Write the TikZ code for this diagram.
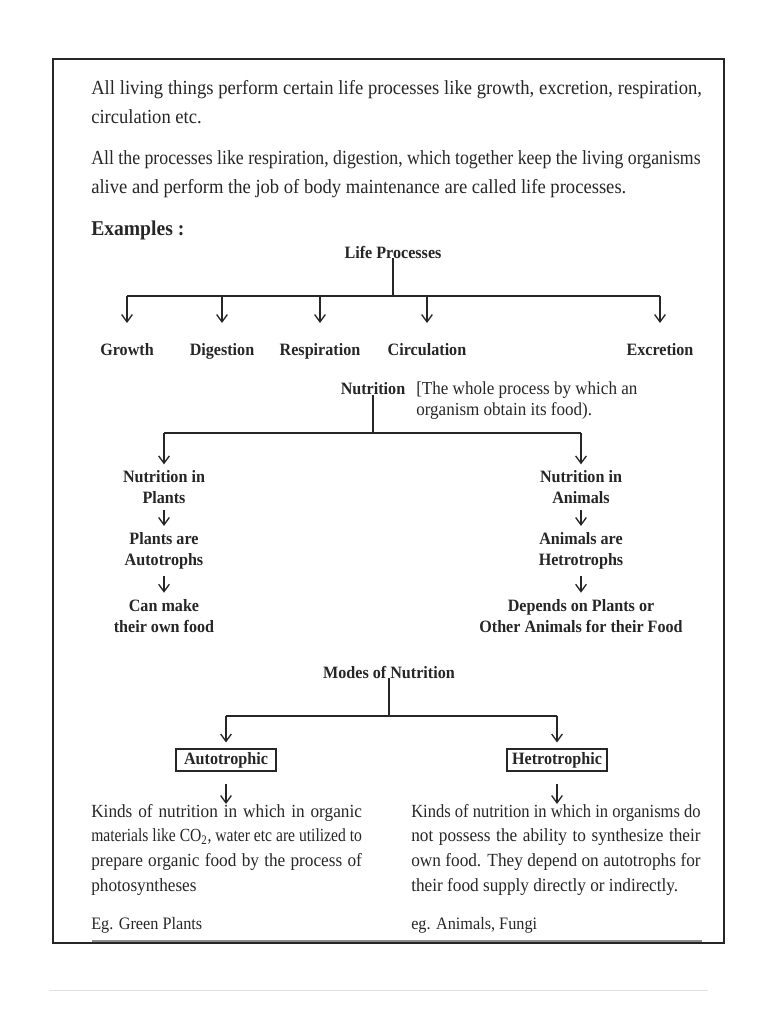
\documentclass[tikz,border=0pt]{standalone}
\usepackage{graphicx}
\usepackage{fontspec}
\setmainfont{Liberation Serif}[FakeStretch=0.93]
\usetikzlibrary{arrows.meta}

% one justified line of a paragraph, squeezed if it is too long
\newcommand\jline[2]{\sbox0{#2}\ifdim\wd0>#1\relax\resizebox{#1}{\height}{\usebox0}\else\makebox[#1][s]{#2}\fi}

\tikzset{
  lbl/.style={font=\bfseries\fontsize{13}{15.4}\selectfont, align=center, inner sep=0pt, text=black!85},
  toptext/.style={font=\fontsize{15}{21.75}\selectfont, inner sep=0pt, align=left, anchor=north west, text=black!85},
  body/.style={font=\fontsize{13.9}{18.5}\selectfont, inner sep=0pt, align=left, anchor=north west, text=black!85},
  egtext/.style={font=\fontsize{13.1}{18.5}\selectfont, inner sep=0pt, anchor=north west, text=black!85},
  arr/.style={-{Straight Barb[length=5.5pt,width=8pt]}, line width=1pt, black!85},
  tree/.style={line width=1pt, black!85},
  kindbox/.style={draw=black!85, line width=1.3pt, minimum width=75pt, minimum height=17pt, inner sep=2pt, font=\bfseries\fontsize{13}{15.4}\selectfont, text=black!85}
}

\begin{document}
\begin{tikzpicture}[x=0.75pt,y=0.75pt,yscale=-1,xscale=1]
\useasboundingbox (0,0) rectangle (768,1024);

%Shape: Frame
\draw [line width=1.1pt, black!85] (53,59) rectangle (724,943);
\draw [line width=0.8pt, black!45] (92,941) -- (702,941);
\draw [line width=0.6pt, black!12] (49,990) -- (708,990);

% Text Node
\node [toptext] (intro) at (91,80) {\jline{458pt}{All living things perform certain life processes like growth, excretion, respiration,}\\circulation etc.};
% Text Node
\node [toptext] (defn) at (91,150) {\jline{457pt}{All the processes like respiration, digestion, which together keep the living organisms}\\alive and perform the job of body maintenance are called life processes.};
% Text Node
\node [anchor=west, inner sep=0pt, font=\bfseries\fontsize{15.8}{18}\selectfont, text=black!85] (examples) at (91,230) {Examples :};

%Life processes tree
\node [lbl] (lp) at (393,252) {Life Processes};
\coordinate (bar1) at (393,296);
\node [lbl, anchor=base] (growth) at (127,355) {Growth};
\node [lbl, anchor=base] (dig) at (222,355) {Digestion};
\node [lbl, anchor=base] (resp) at (320,355) {Respiration};
\node [lbl, anchor=base] (circ) at (427,355) {Circulation};
\node [lbl, anchor=base] (excr) at (660,355) {Excretion};

\draw [tree] (lp.south) -- (bar1);
\draw [tree] (growth |- bar1) -- (excr |- bar1);
\foreach \n in {growth,dig,resp,circ,excr}
  \draw [arr] (\n |- bar1) -- ([yshift=-24pt]\n.base);

%Nutrition tree
\node [lbl] (nutr) at (373,389) {Nutrition};
\node [anchor=north west, inner sep=0pt, align=left, font=\fontsize{13.75}{15.4}\selectfont, text=black!85] (nutrdef) at (416,382) {[The whole process by which an\\organism obtain its food).};
\coordinate (bar2) at (373,433);

\node [lbl] (np1) at (164,487) {Nutrition in\\Plants};
\node [lbl] (np2) at (164,551) {Plants are\\Autotrophs};
\node [lbl] (np3) at (164,616) {Can make\\their own food};
\node [lbl] (na1) at (581,487) {Nutrition in\\Animals};
\node [lbl] (na2) at (581,551) {Animals are\\Hetrotrophs};
\node [lbl] (na3) at (581,616) {Depends on Plants or\\Other Animals for their Food};

\draw [tree] (nutr.south) -- (bar2);
\draw [tree] (np1 |- bar2) -- (na1 |- bar2);
\draw [arr] (np1 |- bar2) -- ([yshift=-4.5pt]np1.north);
\draw [arr] (na1 |- bar2) -- ([yshift=-4.5pt]na1.north);
\draw [arr, shorten <=5pt, shorten >=5pt] (np1) -- (np2);
\draw [arr, shorten <=5pt, shorten >=5pt] (np2) -- (np3);
\draw [arr, shorten <=5pt, shorten >=5pt] (na1) -- (na2);
\draw [arr, shorten <=5pt, shorten >=5pt] (na2) -- (na3);

%Modes of nutrition
\node [lbl] (modes) at (389,672) {Modes of Nutrition};
\coordinate (bar3) at (389,716);
\node [kindbox] (auto) at (226,760) {Autotrophic};
\node [kindbox] (het) at (557,760) {Hetrotrophic};

\draw [tree] (modes.south) -- (bar3);
\draw [tree] (auto |- bar3) -- (het |- bar3);
\draw [arr] (auto |- bar3) -- ([yshift=-4pt]auto.north);
\draw [arr] (het |- bar3) -- ([yshift=-4pt]het.north);

% Text Node
\node [body] (autotext) at (91,804) {\jline{203pt}{Kinds of nutrition in which in organic}\\\jline{203pt}{materials like CO\textsubscript{2}, water etc are utilized to}\\\jline{203pt}{prepare organic food by the process of}\\photosyntheses};
% Text Node
\node [body] (hettext) at (411,804) {\jline{217pt}{Kinds of nutrition in which in organisms do}\\\jline{217pt}{not possess the ability to synthesize their}\\\jline{217pt}{own food. They depend on autotrophs for}\\their food supply directly or indirectly.};

\draw [arr, shorten <=9pt, shorten >=0pt] (auto.south) -- (auto.south |- autotext.north);
\draw [arr, shorten <=9pt, shorten >=0pt] (het.south) -- (het.south |- hettext.north);

% Text Node
\node [egtext] (autoeg) at (91,917) {Eg. Green Plants};
% Text Node
\node [egtext] (heteg) at (411,917) {eg. Animals, Fungi};

\end{tikzpicture}
\end{document}
